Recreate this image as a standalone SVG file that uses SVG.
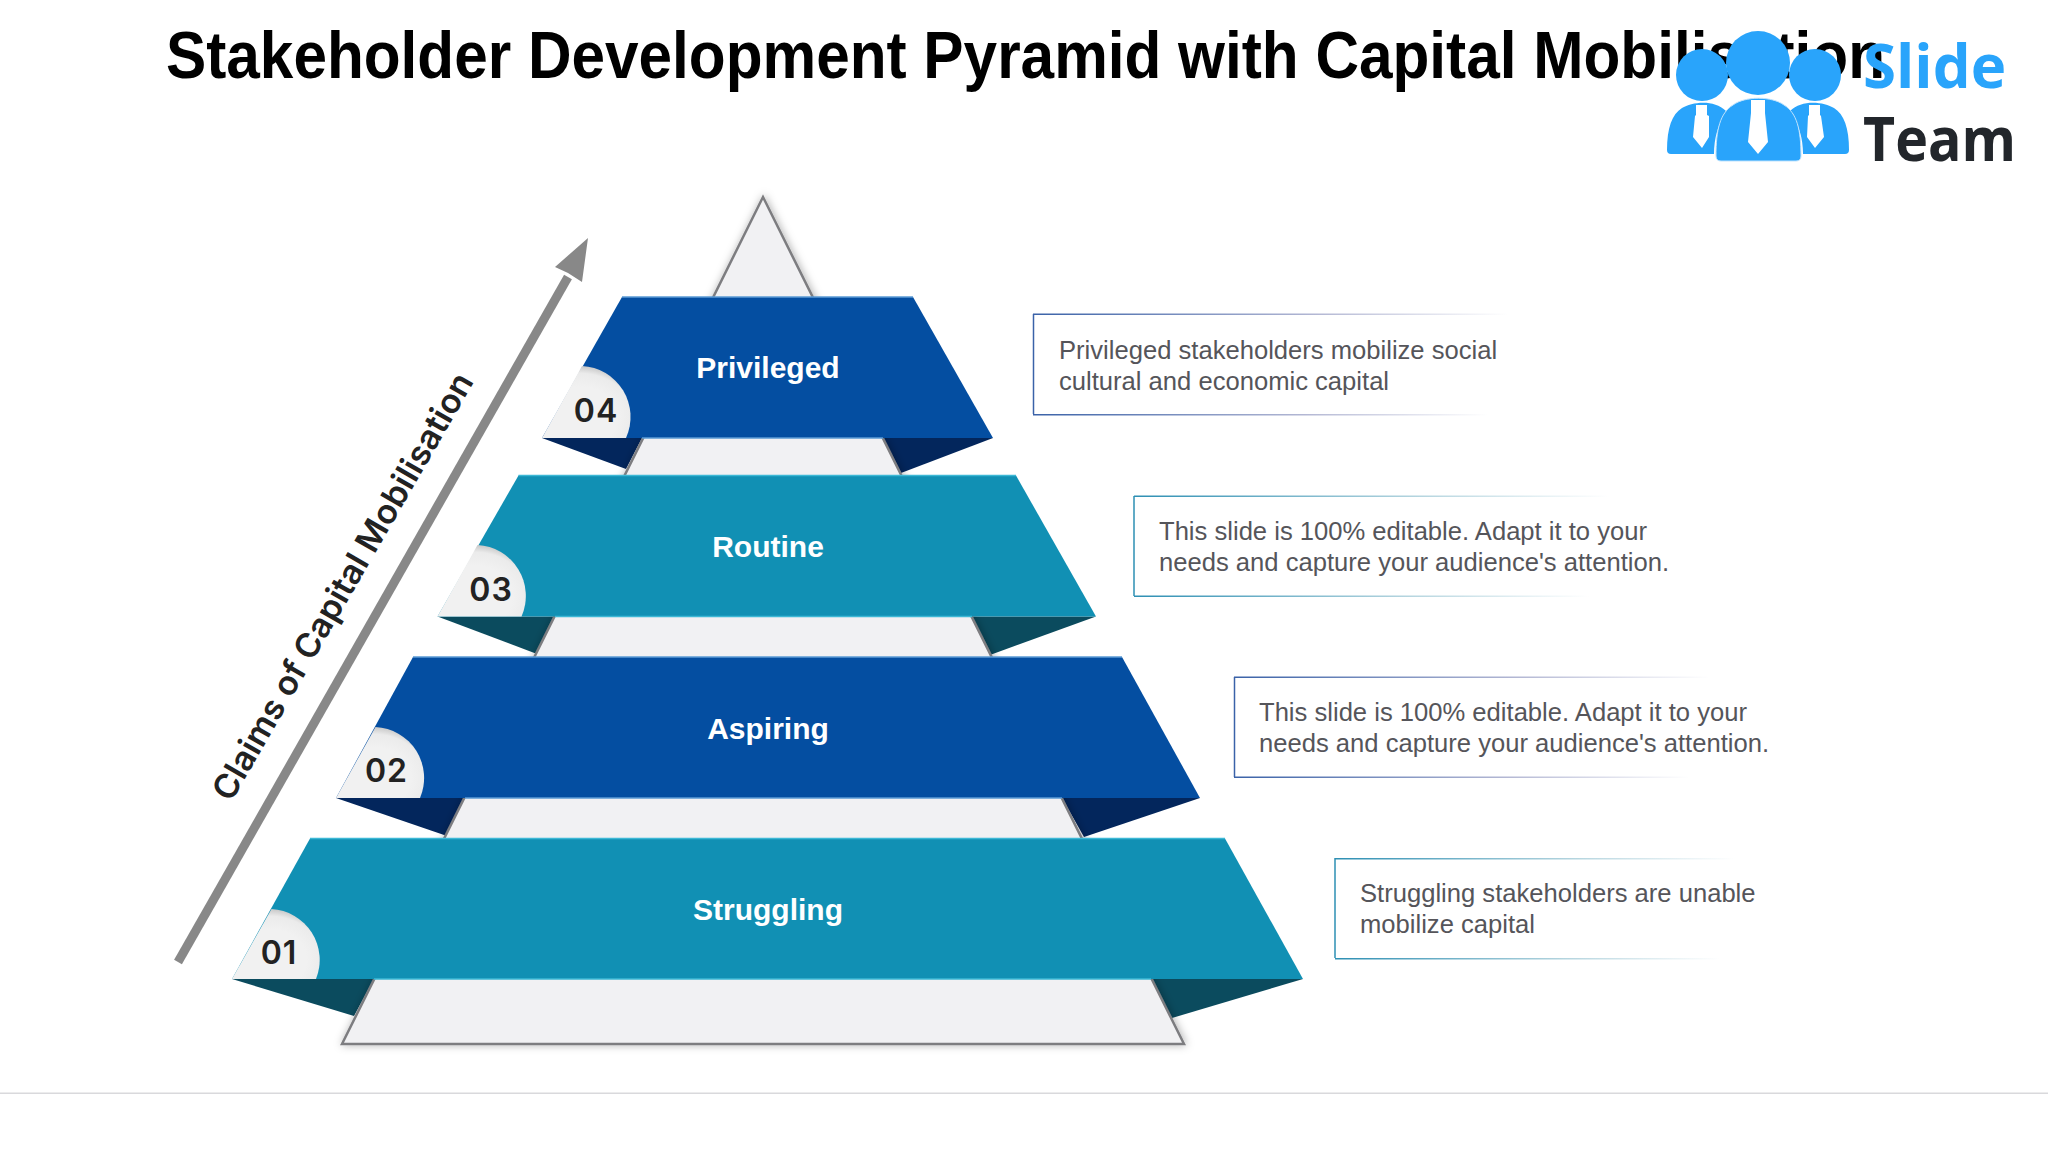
<svg xmlns="http://www.w3.org/2000/svg" width="2048" height="1152" viewBox="0 0 2048 1152">
<defs>
<style>
.blue{fill:#044ea1}.teal{fill:#1190b4}
.fblue{fill:#03265c}.fteal{fill:#0b4b5e}
.wedge{fill:url(#w)}
.tb{font:700 30px "Liberation Sans",Arial,sans-serif;fill:#fff;text-anchor:middle}
.num{font:600 32px Inter,sans-serif;fill:#222;text-anchor:middle;letter-spacing:1px}
.desc{font:400 25.6px "Liberation Sans",Arial,sans-serif;fill:#55555a}
.hb{stroke:#5b9ad5;stroke-width:1.5}.ht{stroke:#3cb8d5;stroke-width:1.5}
</style>
<radialGradient id="w" gradientUnits="objectBoundingBox" cx="0.42" cy="0.72" r="0.72">
<stop offset="0.6" stop-color="#f1f1f1"/><stop offset="0.86" stop-color="#ebebeb"/><stop offset="1" stop-color="#c8c8c8"/>
</radialGradient>
<linearGradient id="lb1" x1="0" x2="1" y1="0" y2="0"><stop offset="0" stop-color="#3a62a8"/><stop offset="0.6" stop-color="#b4b8d4"/><stop offset="1" stop-color="#fff"/></linearGradient>
<linearGradient id="lb2" x1="0" x2="1" y1="0" y2="0"><stop offset="0" stop-color="#2d8fb3"/><stop offset="0.6" stop-color="#b5d5df"/><stop offset="1" stop-color="#fff"/></linearGradient>
<filter id="sh" x="-5%" y="-5%" width="110%" height="110%"><feDropShadow dx="1" dy="0" stdDeviation="4" flood-color="#000" flood-opacity="0.3"/></filter>
</defs>
<rect width="2048" height="1152" fill="#fff"/>
<text id="title" x="166" y="78" font-family="'Liberation Sans',Arial,sans-serif" font-weight="700" font-size="66" fill="#000" textLength="1719" lengthAdjust="spacingAndGlyphs">Stakeholder Development Pyramid with Capital Mobilisation</text>
<g id="logo">
<g fill="#29a4fb">
<circle cx="1702" cy="75" r="26"/><circle cx="1758" cy="63" r="32"/><circle cx="1815" cy="75" r="26"/>
<path d="M1667 150C1667 128 1672 114 1682 108C1692 102 1714 99 1726 111C1718 125 1714 138 1714 154H1671Q1667 154 1667 150Z"/>
<path d="M1849 150C1849 128 1844 114 1834 108C1824 102 1802 99 1790 111C1799 125 1803 138 1803 154H1845Q1849 154 1849 150Z"/>
<path d="M1716 156C1716 130 1720 113 1733 105C1745 96 1772 96 1784 105C1797 113 1801 130 1801 156Q1801 161 1796 161H1721Q1716 161 1716 156Z" stroke="#bfe3fd" stroke-width="1"/>
</g>
<g fill="#fff">
<path d="M1696 105H1707V115L1709 116L1709 137L1702 148L1693 137L1695 116L1696 115Z"/>
<path d="M1751 100H1765V113L1768 142L1758 154L1748 142L1751 113Z"/>
<path d="M1809 105H1820V115L1821 116L1824 137L1815 148L1807 137L1808 116L1809 115Z"/>
</g>
<text x="1863" y="88" font-family="'Open Sans',sans-serif" font-weight="700" font-size="60" fill="#29a4fb">Slide</text>
<text x="1863" y="161" font-family="'Open Sans',sans-serif" font-weight="700" font-size="60" fill="#22262b" textLength="153" lengthAdjust="spacingAndGlyphs">Team</text>
</g>
<g id="connectors">
<path d="M178 962L568 277" stroke="#888" stroke-width="9" fill="none"/>
<path d="M588 238L555 267L568 273L582 282Z" fill="#888"/>
</g>
<text id="axis-label" transform="translate(231 803) rotate(-60)" font-family="Inter,sans-serif" font-weight="600" font-size="33.5" fill="#222" textLength="487" lengthAdjust="spacingAndGlyphs">Claims of Capital Mobilisation</text>
<g id="folds">
<path class="fblue" d="M542 438L626 469L642 438Z"/><path class="fblue" d="M993 438L901 473L883 438Z"/>
<path class="fteal" d="M437.5 616.5L537 654L555 616.5Z"/><path class="fteal" d="M1096 616.5L990 655L972 616.5Z"/>
<path class="fblue" d="M336 798L447 836L465 798Z"/><path class="fblue" d="M1200 798L1084 837L1062 798Z"/>
<path class="fteal" d="M232 979L354 1016L374 979Z"/><path class="fteal" d="M1303 979L1172 1018L1151 979Z"/>
</g>
<polygon id="pyramid" points="763,197 1184,1044 342,1044" fill="#f1f1f3" stroke="#7d7d80" stroke-width="2.5" filter="url(#sh)"/>
<g id="tier-04">
<path class="blue" d="M622 297H913L993 438H542Z"/><path class="hb" d="M622 297H913M642 438H883" fill="none"/>
<path class="wedge" d="M582 366A51 51 0 0 1 626 438H542Z"/>
<text class="tb" x="768" y="378">Privileged</text><text class="num" x="596" y="422">04</text>
</g>
<g id="tier-03">
<path class="teal" d="M518.5 475.5H1016L1096 616.5H437.5Z"/><path class="ht" d="M518.5 475.5H1016M555 616.5H972" fill="none"/>
<path class="wedge" d="M477.5 545A51 51 0 0 1 521.5 616.5H437.5Z"/>
<text class="tb" x="768" y="557">Routine</text><text class="num" x="491" y="600.5">03</text>
</g>
<g id="tier-02">
<path class="blue" d="M413 657H1122L1200 798H336Z"/><path class="hb" d="M413 657H1122M465 798H1062" fill="none"/>
<path class="wedge" d="M375.5 727A51 51 0 0 1 420 798H336Z"/>
<text class="tb" x="768" y="739">Aspiring</text><text class="num" x="386.5" y="782">02</text>
</g>
<g id="tier-01">
<path class="teal" d="M310 838.5H1225L1303 979H232Z"/><path class="ht" d="M310 838.5H1225M374 979H1151" fill="none"/>
<path class="wedge" d="M271.5 909A51 51 0 0 1 316 979H232Z"/>
<text class="tb" x="768" y="920">Struggling</text><text class="num" x="279" y="963.5">01</text>
</g>
<g id="box-04" fill="none">
<path d="M1033.5 414V314" stroke="#3a62a8" stroke-width="1.5"/>
<rect x="1033" y="313.5" width="475" height="1.5" fill="url(#lb1)"/><rect x="1033" y="414" width="455" height="1.5" fill="url(#lb1)"/>
<text class="desc" x="1059" y="359">Privileged stakeholders mobilize social</text><text class="desc" x="1059" y="390">cultural and economic capital</text>
</g>
<g id="box-03" fill="none">
<path d="M1134 596V496" stroke="#2d8fb3" stroke-width="1.5"/>
<rect x="1134" y="495.5" width="475" height="1.5" fill="url(#lb2)"/><rect x="1134" y="595.5" width="455" height="1.5" fill="url(#lb2)"/>
<text class="desc" x="1159" y="540">This slide is 100% editable. Adapt it to your</text><text class="desc" x="1159" y="571">needs and capture your audience's attention.</text>
</g>
<g id="box-02" fill="none">
<path d="M1234.5 777V677" stroke="#3a62a8" stroke-width="1.5"/>
<rect x="1234" y="676.5" width="475" height="1.5" fill="url(#lb1)"/><rect x="1234" y="776.5" width="455" height="1.5" fill="url(#lb1)"/>
<text class="desc" x="1259" y="721">This slide is 100% editable. Adapt it to your</text><text class="desc" x="1259" y="752">needs and capture your audience's attention.</text>
</g>
<g id="box-01" fill="none">
<path d="M1335 958V858" stroke="#2d8fb3" stroke-width="1.5"/>
<rect x="1335" y="858" width="400" height="1.5" fill="url(#lb2)"/><rect x="1335" y="958" width="385" height="1.5" fill="url(#lb2)"/>
<text class="desc" x="1360" y="902">Struggling stakeholders are unable</text><text class="desc" x="1360" y="933">mobilize capital</text>
</g>
<rect id="footer-line" x="0" y="1092.5" width="2048" height="1.5" fill="#d9d9dc"/>
</svg>
